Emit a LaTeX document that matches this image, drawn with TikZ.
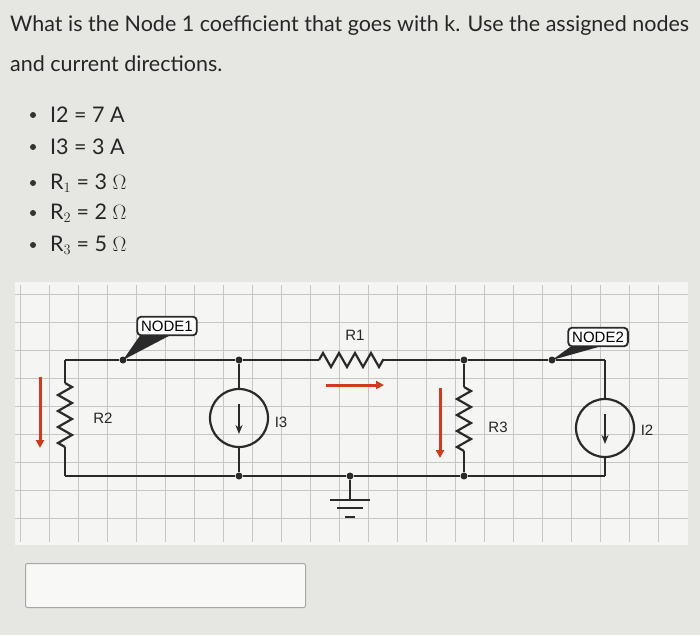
\documentclass[tikz,border=0pt]{standalone}
\usepackage{fontspec}
\setmainfont{Lato}
\newfontfamily\arialf{Liberation Sans}
\usetikzlibrary{decorations.pathmorphing,arrows.meta,calc}
\definecolor{bg}{HTML}{E6E6E3}
\definecolor{grid}{HTML}{C6C6C6}
\definecolor{wire}{HTML}{2A2A2A}
\definecolor{redarr}{HTML}{D23A1E}
\begin{document}
\begin{tikzpicture}[x=1pt,y=-1pt,
  txt/.style={font=\fontsize{21.5}{25}\selectfont,anchor=west,text=black!85,inner sep=0},
  w/.style={draw=wire,line width=2.2pt},
  res/.style={w,decorate,decoration={zigzag,segment length=16pt,amplitude=7pt}},
  dot/.style={circle,fill=wire,inner sep=0,minimum size=7pt},
  lab/.style={font=\arialf\fontsize{15}{17}\selectfont,text=black!85},
  nbox/.style={draw=wire,line width=1.8pt,rounded corners=4pt,fill=white,font=\arialf\fontsize{15}{17}\selectfont,inner sep=4pt},
  src/.style={circle,draw=wire,line width=2.2pt,minimum size=58pt,inner sep=0},
  red/.style={draw=redarr,line width=3pt,-{Triangle[length=8pt,width=8pt]}}]
\useasboundingbox (0,0) rectangle (700,635);
\fill[bg] (0,0) rectangle (700,635);
% texts
\node[txt] (t1) at (10,26) {What is the Node 1 coefficient that goes with k. Use the assigned nodes};
\node[txt] (t2) at (10,64) {and current directions.};
\foreach \y/\s [count=\i] in {115/{I2 = 7 A},147/{I3 = 3 A},183/{R$_1$ = 3 $\Omega$},213/{R$_2$ = 2 $\Omega$},245/{R$_3$ = 5 $\Omega$}}{
  \node[circle,fill=black!80,inner sep=0,minimum size=6pt] (b\i) at (33,\y) {};
  \node[txt] (l\i) at (50,\y) {\s};
}
% grid
\fill[white!60!bg] (15,282) rectangle (688,545);
\foreach \x in {20,49,...,680} \draw[grid,line width=0.8pt] (\x,285) -- (\x,542);
\foreach \y in {294,322,...,540} \draw[grid,line width=0.8pt] (15,\y) -- (688,\y);
% coordinates
\coordinate (tl) at (65,360); \coordinate (bl) at (65,476);
\coordinate (tr) at (605,360); \coordinate (br) at (605,476);
\node[dot] (n1) at (123,360) {};
\node[dot] (j1) at (239,360) {}; \node[dot] (j2) at (239,476) {};
\node[dot] (j3) at (464,360) {}; \node[dot] (j4) at (464,476) {};
\node[dot] (n2) at (552,360) {};
\node[dot] (g) at (350,476) {};
\coordinate (r1a) at (319,360); \coordinate (r1b) at (384,360);
% wires
\draw[w] (tl) -- (n1) -- (j1) -- (r1a);
\draw[w] (r1b) -- (j3) -- (n2) -- (tr);
\draw[w] (bl) -- (j2) -- (g) -- (j4) -- (br);
% R2
\coordinate (r2a) at (65,383); \coordinate (r2b) at (65,447);
\draw[w] (tl) -- (r2a) (r2b) -- (bl);
\draw[res] (r2a) -- (r2b);
\node[lab] (R2) at (103,418) {R2};
\draw[red] (40,377) -- (40,448);
% R1
\draw[res] (r1a) -- (r1b);
\node[lab] (R1) at (355,335) {R1};
\draw[red] (326,385) -- (384,385);
% R3
\coordinate (r3a) at (464,387); \coordinate (r3b) at (464,451);
\draw[w] (j3) -- (r3a) (r3b) -- (j4);
\draw[res] (r3a) -- (r3b);
\node[lab] (R3) at (498,427) {R3};
\draw[red] (440,388) -- (440,458);
% I3
\node[src] (s3) at (239,418) {};
\draw[w] (j1) -- (s3) -- (j2);
\draw[wire,line width=2pt,-{Stealth[length=9pt,width=7pt]}] (239,404) -- (239,434);
\node[lab] (I3) at (281,422) {I3};
% I2
\node[src] (s2) at (605,428) {};
\draw[w] (tr) -- (s2) -- (br);
\draw[wire,line width=2pt,-{Stealth[length=9pt,width=7pt]}] (605,414) -- (605,444);
\node[lab] (I2) at (647,430) {I2};
% ground
\coordinate (gb) at (350,500);
\draw[w] (g) -- (gb);
\draw[w] (330,500) -- (370,500);
\draw[w] (337,508) -- (363,508);
\draw[w] (345,517) -- (355,517);
% node labels
\node[nbox] (N1) at (167,326) {NODE1};
\fill[wire] ($(N1.south west)+(4,-1)$) -- (n1.center) -- ($(N1.south west)+(34,-1)$) -- cycle;
\node[nbox] (N2) at (598,337) {NODE2};
\fill[wire] ($(N2.south west)+(4,-1)$) -- (n2.center) -- ($(N2.south west)+(34,-1)$) -- cycle;
% answer box
\node[draw=black!35,line width=1pt,fill=white!70!bg,rounded corners=2pt,minimum width=280pt,minimum height=44pt,anchor=north west] (ans) at (25,563) {};
\end{tikzpicture}
\end{document}
